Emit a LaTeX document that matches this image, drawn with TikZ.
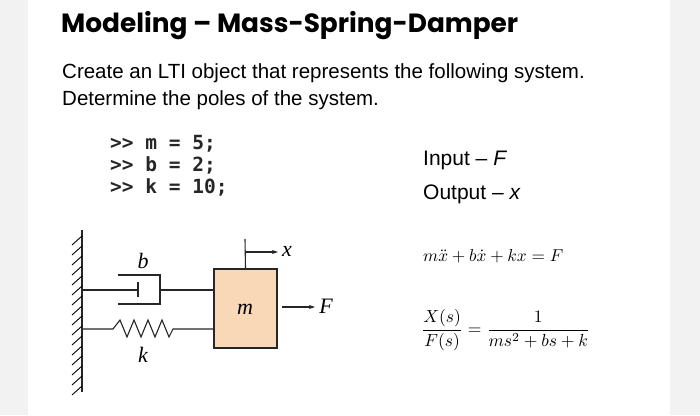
\documentclass[tikz,border=0pt]{standalone}
\usepackage{amsmath}
\usepackage{fontspec}
\setmainfont{Liberation Sans}
\newfontfamily\titlefont{Poppins}
\newfontfamily\codefont{DejaVu Sans Mono}
\newfontfamily\serifit{Liberation Serif}
\usetikzlibrary{arrows.meta}
\definecolor{massfill}{HTML}{F8D8B6}
\newcommand{\lbltext}[1]{{\fontsize{22}{22}\selectfont\serifit\itshape #1}}
\begin{document}
\begin{tikzpicture}[x=1pt,y=-1pt,
  ln/.style={line width=1.1pt,black!85},
  lbl/.style={inner sep=0pt},
  arr/.style={ln,-{Stealth[length=6pt,width=4pt]}}]
\fill[black!5] (0,0) rectangle (700,415);
\fill[white] (28,0) rectangle (670,415);
\useasboundingbox (0,0) rectangle (700,415);
\node[anchor=west,inner sep=0pt] (title) at (61,26) {\resizebox{457pt}{!}{\titlefont\bfseries Modeling – Mass-Spring-Damper}};
\node[anchor=north west,inner sep=0pt,align=left,font=\fontsize{20.5}{27}\selectfont] (desc) at (62,63) {Create an LTI object that represents the following system.\\Determine the poles of the system.};
\node[anchor=north west,inner sep=0pt,align=left,font=\codefont\bfseries\fontsize{19.5}{22}\selectfont,black!85] (code) at (110,135) {>> m = 5;\\>> b = 2;\\>> k = 10;};
\node[anchor=west,inner sep=0pt,font=\fontsize{21}{21}\selectfont] (in) at (423,160) {Input – \textit{F}};
\node[anchor=west,inner sep=0pt,font=\fontsize{21}{21}\selectfont] (out) at (423,194) {Output – \textit{x}};
% wall
\coordinate (wt) at (82,230); \coordinate (wb) at (82,392);
\draw[ln] (wt) -- (wb);
\foreach \y in {236,246,...,392} \draw[line width=0.9pt] (82,\y) -- (72,\y+9);
% mass
\node[draw,ln,fill=massfill,minimum width=63pt,minimum height=79pt,inner sep=0pt] (m) at (245.5,308.5) {};
\node[lbl] (ml) at (245,309) {\lbltext{m}};
% damper
\coordinate (d0) at (82,290); \coordinate (d1) at (138,290);
\draw[ln] (d0) -- (d1);
\draw[ln] (138,282) -- (138,297);
\draw[ln] (118,275) -- (160,275) -- (160,304) -- (118,304);
\draw[ln] (160,290) -- (m.west |- 0,290);
\node[lbl] (b) at (143,261) {\lbltext{b}};
% spring
\draw[ln] (82,329) -- (113,329) -- (120,320) -- (127,337) -- (134,320) -- (141,337) -- (148,320) -- (155,337) -- (162,320) -- (169,337) -- (173,329) -- (m.west |- 0,329);
\node[lbl] (k) at (143,355) {\lbltext{k}};
% x marker
\draw[ln] (245,239) -- (m.north);
\coordinate (xa) at (245,252); \coordinate (xb) at (278,252);
\draw[arr] (xa) -- (xb);
\node[lbl] (x) at (287,251) {\lbltext{x}};
% F arrow
\coordinate (fa) at (282,307); \coordinate (fb) at (315,307);
\draw[arr] (fa) -- (fb);
\node[lbl] (F) at (326,306) {\lbltext{F}};
% equations
\node[anchor=west,inner sep=0pt] (eq1) at (423,256) {\resizebox{140pt}{!}{$m\ddot{x}+b\dot{x}+kx=F$}};
\node[anchor=west,inner sep=0pt] (eq2) at (421,330) {\resizebox{169pt}{!}{$\dfrac{X(s)}{F(s)}=\dfrac{1}{ms^2+bs+k}$}};
\end{tikzpicture}
\end{document}
